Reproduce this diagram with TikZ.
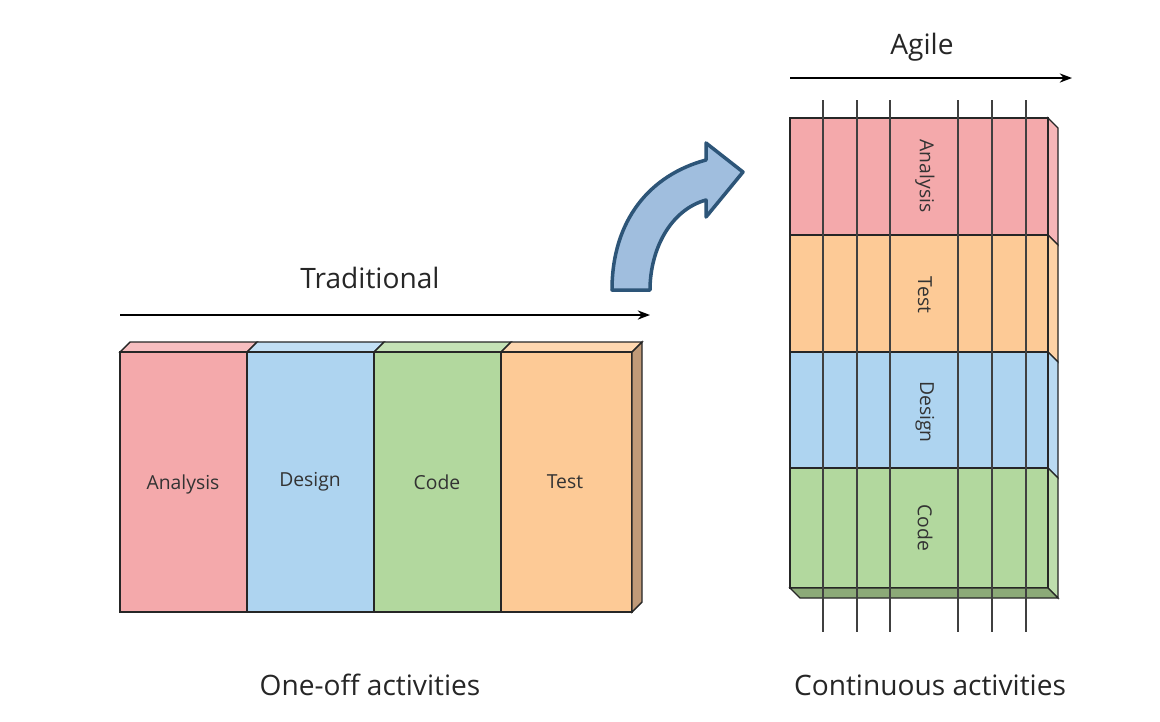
\documentclass[tikz,border=0pt]{standalone}
\usepackage{fontspec}
\setmainfont{Open Sans}
\usetikzlibrary{arrows.meta}
\begin{document}
\begin{tikzpicture}[x=0.02cm,y=-0.02cm,
  face/.style={draw=black!85,line width=0.8pt},
  lbl/.style={font=\fontsize{11}{13}\selectfont,text=black!80},
  big/.style={font=\fontsize{16}{19}\selectfont,text=black!85},
  vl/.style={draw=black!75,line width=0.8pt}]
\definecolor{cA}{HTML}{F4A9AB}\definecolor{cD}{HTML}{AED4F0}
\definecolor{cC}{HTML}{B2D89E}\definecolor{cT}{HTML}{FDCA96}
\useasboundingbox (0,0) rectangle (1160,721);
% left block
\foreach \a/\b/\c in {120/247/cA,247/374/cD,374/501/cC,501/632/cT}{
  \filldraw[face,fill=\c!75] (\a,352)--(\a+10,342)--(\b+10,342)--(\b,352)--cycle;
  \filldraw[face,fill=\c] (\a,352) rectangle (\b,612);}
\filldraw[face,fill={rgb,255:red,192;green,154;blue,120}] (632,352)--(642,342)--(642,602)--(632,612)--cycle;
\node[lbl] (la) at (183,484) {Analysis};
\node[lbl] (ld) at (310,482) {Design};
\node[lbl] (lc) at (437,482) {Code};
\node[lbl] (lt) at (565,482) {Test};
\coordinate (t1) at (120,315); \coordinate (t2) at (650,315);
\draw[-{Stealth[length=7pt]},line width=0.8pt] (t1)--(t2);
\node[big] (trad) at (370,278) {Traditional};
\node[big] (one) at (370,685) {One-off activities};
% right block
\foreach \a/\b/\c in {118/235/cA,235/352/cT,352/468/cD,468/588/cC}{
  \filldraw[face,fill=\c!85] (1048,\a)--(1058,\a+10)--(1058,\b+10)--(1048,\b)--cycle;
  \filldraw[face,fill=\c] (790,\a) rectangle (1048,\b);}
\filldraw[face,fill={rgb,255:red,140;green,170;blue,120}] (790,588)--(800,598)--(1058,598)--(1048,588)--cycle;
\foreach \x in {823,857,890,958,992,1026}{\draw[vl] (\x,100)--(\x,632);}
\node[lbl,rotate=-90] (ra) at (925,176) {Analysis};
\node[lbl,rotate=-90] (rt) at (925,295) {Test};
\node[lbl,rotate=-90] (rd) at (925,412) {Design};
\node[lbl,rotate=-90] (rc) at (925,528) {Code};
\coordinate (g1) at (790,78); \coordinate (g2) at (1072,78);
\draw[-{Stealth[length=7pt]},line width=0.8pt] (g1)--(g2);
\node[big] (ag) at (922,47) {Agile};
\node[big] (cont) at (930,685) {Continuous activities};
% curved arrow
\filldraw[draw={rgb,255:red,45;green,85;blue,120},line width=2pt,fill={rgb,255:red,160;green,190;blue,222},line join=round]
 (612,290) .. controls (612,220) and (650,175) .. (706,160) -- (706,143) -- (743,172) -- (706,217) -- (706,200)
 .. controls (670,210) and (650,250) .. (650,290) -- cycle;
\end{tikzpicture}
\end{document}
